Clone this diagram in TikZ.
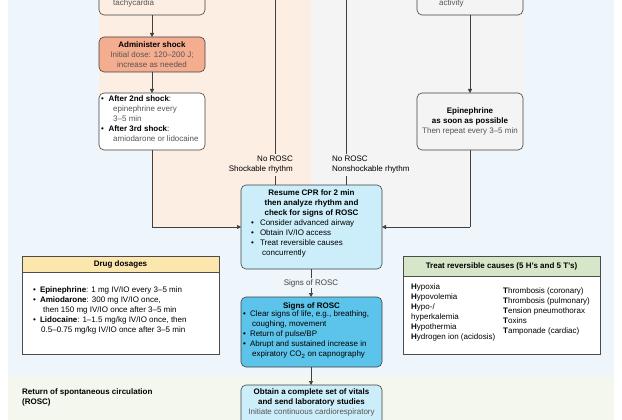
\documentclass[tikz,border=0pt]{standalone}
\usepackage{fontspec}
\setmainfont{Liberation Sans}
\usetikzlibrary{arrows.meta, positioning}
\definecolor{bgblue}{HTML}{EEF6FC}
\definecolor{bgpeach}{HTML}{FDEEE4}
\definecolor{bggrey}{HTML}{F4F4F4}
\definecolor{bggreen}{HTML}{F4F7EE}
\definecolor{shock}{HTML}{F5AD90}
\definecolor{cprblue}{HTML}{CCEEFA}
\definecolor{roscblue}{HTML}{5CC3EA}
\definecolor{drughead}{HTML}{FBE6AE}
\definecolor{causehead}{HTML}{D6E6C8}
\definecolor{greytext}{HTML}{555555}
\tikzset{%
	stage/.style={draw=black!75, rounded corners=5pt, line width=0.6pt},
	panel/.style={draw=black!70, line width=0.6pt},
	flow/.style={-{Triangle[length=4pt,width=4pt]}, line width=0.5pt, black!75},
	line/.style={line width=0.5pt, black!75},
	txt/.style={inner sep=0pt, align=left, font=\fontsize{8}{10}\selectfont},
	ctxt/.style={inner sep=0pt, align=center, font=\fontsize{8}{10}\selectfont}
}
\newcommand{\gr}[1]{\textcolor{greytext}{#1}}
\begin{document}
\begin{tikzpicture}[x=1pt, y=-1pt]
	\useasboundingbox (0,0) rectangle (622,420);
	% backgrounds
	\fill[bgblue] (8,0) rectangle (614,377);
	\fill[bggreen] (8,377) rectangle (614,420);
	\fill[bgpeach] (99,0) -- (311,0) -- (311,227) -- (152,227) -- (152,149) -- (99,149) -- cycle;
	\fill[bggrey] (311,0) -- (523,0) -- (523,149) -- (470,149) -- (470,227) -- (311,227) -- cycle;
	% shockable side
	\draw[stage, fill=bgpeach] (99,-20) rectangle (205,15);
	\node[txt, anchor=west] (tachy) at (113,3) {\gr{tachycardia}};
	\draw[stage, fill=shock] (99,37) rectangle (205,72);
	\node[ctxt] (shocktxt) at (152,54.5) {\textbf{Administer shock}\\\gr{Initial dose: 120--200 J;}\\\gr{increase as needed}};
	\draw[stage, fill=white] (99,93) rectangle (205,150);
	\node[txt, anchor=north west] (after) at (101,96) {\textbullet\hspace{4.5pt}\textbf{After 2nd shock}:\\\hspace{12pt}\gr{epinephrine every}\\\hspace{12pt}\gr{3--5 min}\\\textbullet\hspace{4.5pt}\textbf{After 3rd shock}:\\\hspace{12pt}\gr{amiodarone or lidocaine}};
	\coordinate (s1) at (152,15);
	\coordinate (s2) at (152,37);
	\coordinate (s3) at (152,72);
	\coordinate (s4) at (152,93);
	\coordinate (s5) at (152,150);
	\coordinate (s6) at (152,227);
	\draw[flow] (s1) -- (s2);
	\draw[flow] (s3) -- (s4);
	% nonshockable side
	\draw[stage, fill=bggrey] (417,-20) rectangle (523,15);
	\node[txt, anchor=west] (activity) at (439,3) {\gr{activity}};
	\draw[stage, fill=bggrey] (417,93) rectangle (523,150);
	\node[ctxt] (epi) at (470,121) {\textbf{Epinephrine}\\\textbf{as soon as possible}\\\gr{Then repeat every 3--5 min}};
	\coordinate (n1) at (470,15);
	\coordinate (n2) at (470,93);
	\coordinate (n3) at (470,150);
	\coordinate (n4) at (470,227);
	\draw[flow] (n1) -- (n2);
	% central column
	\draw[stage, fill=cprblue] (241,185) rectangle (382,269);
	\node[ctxt] (cprhead) at (311.5,203) {\textbf{Resume CPR for 2 min}\\\textbf{then analyze rhythm and}\\\textbf{check for signs of ROSC}};
	\node[txt, anchor=north west] (cprlist) at (251,220) {\textbullet\hspace{6pt}Consider advanced airway\\\textbullet\hspace{6pt}Obtain IV/IO access\\\textbullet\hspace{6pt}Treat reversible causes\\\hspace{11pt}concurrently};
	\draw[stage, fill=roscblue] (241,297) rectangle (382,367);
	\node[ctxt] (roschead) at (311.5,306) {\textbf{Signs of ROSC}};
	\node[txt, anchor=north west] (rosclist) at (243,311) {\textbullet\hspace{4pt}Clear signs of life, e.g., breathing,\\\hspace{9pt}coughing, movement\\\textbullet\hspace{4pt}Return of pulse/BP\\\textbullet\hspace{4pt}Abrupt and sustained increase in\\\hspace{9pt}expiratory CO\textsubscript{2} on capnography};
	\draw[stage, fill=cprblue] (241,385) rectangle (382,440);
	\node[ctxt, anchor=north] (vitals) at (311.5,389) {\textbf{Obtain a complete set of vitals}\\\textbf{and send laboratory studies}\\\gr{Initiate continuous cardiorespiratory}};
	\coordinate (c1) at (311,269);
	\coordinate (c2) at (311,297);
	\coordinate (c3) at (311,367);
	\coordinate (c4) at (311,385);
	\coordinate (cl) at (241,227);
	\coordinate (cr) at (382,227);
	\coordinate (t1) at (275,0);
	\coordinate (t2) at (275,185);
	\coordinate (u1) at (346,0);
	\coordinate (u2) at (346,185);
	\draw[line] (s5) -- (s6);
	\draw[flow] (s6) -- (cl);
	\draw[line] (n3) -- (n4);
	\draw[flow] (n4) -- (cr);
	\draw[line] (t1) -- (t2);
	\draw[line] (u1) -- (u2);
	\node[txt, anchor=east, align=right, fill=bgpeach, inner ysep=2pt] (nors) at (293,165) {No ROSC\\Shockable rhythm};
	\node[txt, anchor=west, fill=bggrey, inner ysep=2pt] (norn) at (332,165) {No ROSC\\Nonshockable rhythm};
	\draw[flow] (c1) -- node[fill=bgblue, ctxt, inner sep=1pt]{Signs of ROSC} (c2);
	\draw[flow] (c3) -- (c4);
	% side panels
	\draw[panel, fill=white] (22,256) rectangle (219,354);
	\draw[panel, fill=drughead] (22,256) rectangle (219,272);
	\node[ctxt] (drughd) at (120.5,264) {\textbf{Drug dosages}};
	\node[txt, anchor=north west] (druglist) at (33,287) {\textbullet\hspace{4pt}\textbf{Epinephrine}: 1 mg IV/IO every 3--5 min\\\textbullet\hspace{4pt}\textbf{Amiodarone}: 300 mg IV/IO once,\\\hspace{10pt}then 150 mg IV/IO once after 3--5 min\\\textbullet\hspace{4pt}\textbf{Lidocaine}: 1--1.5 mg/kg IV/IO once, then\\\hspace{8pt}0.5--0.75 mg/kg IV/IO once after 3--5 min};
	\draw[panel, fill=white] (403,256) rectangle (600,354);
	\draw[panel, fill=causehead] (403,256) rectangle (600,276);
	\node[ctxt] (causehd) at (501.5,266) {\textbf{Treat reversible causes (5 H's and 5 T's)}};
	\node[txt, anchor=north west] (hlist) at (411,284) {\textbf{H}ypoxia\\\textbf{H}ypovolemia\\\textbf{H}ypo-/\\hyperkalemia\\\textbf{H}ypothermia\\\textbf{H}ydrogen ion (acidosis)};
	\node[txt, anchor=north west] (tlist) at (503,288) {\textbf{T}hrombosis (coronary)\\\textbf{T}hrombosis (pulmonary)\\\textbf{T}ension pneumothorax\\\textbf{T}oxins\\\textbf{T}amponade (cardiac)};
	\node[txt, anchor=north west] (phase) at (22,389) {\textbf{Return of spontaneous circulation}\\\textbf{(ROSC)}};
\end{tikzpicture}
\end{document}
